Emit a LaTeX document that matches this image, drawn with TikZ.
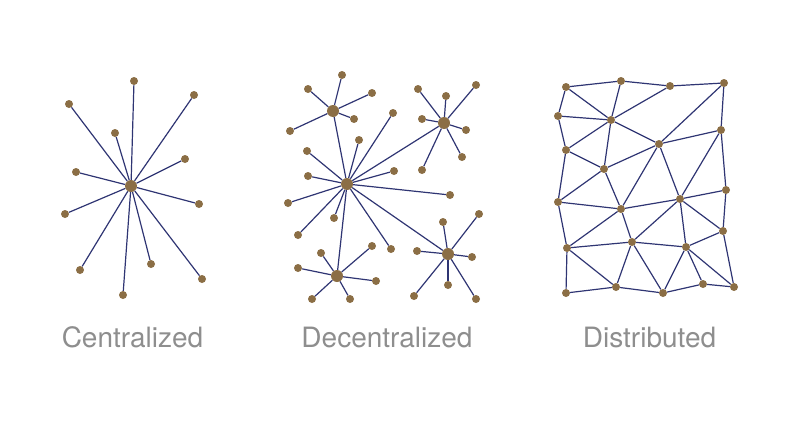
\documentclass[tikz,border=0pt]{standalone}
\usepackage{fontspec}
\setmainfont{TeX Gyre Heros}
\definecolor{nodebrown}{HTML}{8B6E45}
\definecolor{linknavy}{HTML}{2F3573}
\definecolor{captiongray}{HTML}{8E8E8E}

\begin{document}
\begin{tikzpicture}[x=1pt,y=-1pt,
  hub/.style={circle,fill=nodebrown,inner sep=0pt,minimum size=12pt},
  leaf/.style={circle,fill=nodebrown,inner sep=0pt,minimum size=8pt},
  link/.style={draw=linknavy,line width=1.2pt},
  caption/.style={anchor=base,text=captiongray,font=\fontsize{28}{30}\selectfont}]
\useasboundingbox (0,0) rectangle (800,431);

% centralized
\node[hub] (cc) at (131,186) {};
\node[leaf] (c1) at (134,81) {};
\node[leaf] (c2) at (194,95) {};
\node[leaf] (c3) at (69,104) {};
\node[leaf] (c4) at (115,133) {};
\node[leaf] (c5) at (185,159) {};
\node[leaf] (c6) at (76,172) {};
\node[leaf] (c7) at (199,204) {};
\node[leaf] (c8) at (65,214) {};
\node[leaf] (c9) at (151,264) {};
\node[leaf] (c10) at (80,270) {};
\node[leaf] (c11) at (202,279) {};
\node[leaf] (c12) at (123,295) {};
\draw[link] (cc) -- (c1);
\draw[link] (cc) -- (c2);
\draw[link] (cc) -- (c3);
\draw[link] (cc) -- (c4);
\draw[link] (cc) -- (c5);
\draw[link] (cc) -- (c6);
\draw[link] (cc) -- (c7);
\draw[link] (cc) -- (c8);
\draw[link] (cc) -- (c9);
\draw[link] (cc) -- (c10);
\draw[link] (cc) -- (c11);
\draw[link] (cc) -- (c12);
\node[caption] (ccap) at (132.5,347) {Centralized};

% decentralized
\node[hub] (dm) at (347,184) {};
\node[hub] (da) at (333,111) {};
\node[hub] (db) at (444,123) {};
\node[hub] (dc) at (337,276) {};
\node[hub] (dd) at (448,254) {};
\node[leaf] (m1) at (359,140) {};
\node[leaf] (m2) at (393,113) {};
\node[leaf] (m3) at (307,151) {};
\node[leaf] (m4) at (394,171) {};
\node[leaf] (m5) at (308,176) {};
\node[leaf] (m6) at (450,195) {};
\node[leaf] (m7) at (288,203) {};
\node[leaf] (m8) at (334,218) {};
\node[leaf] (m9) at (298,235) {};
\node[leaf] (m10) at (391,249) {};
\node[leaf] (a1) at (342,75) {};
\node[leaf] (a2) at (308,89) {};
\node[leaf] (a3) at (372,93) {};
\node[leaf] (a4) at (354,119) {};
\node[leaf] (a5) at (290,131) {};
\node[leaf] (b1) at (418,89) {};
\node[leaf] (b2) at (446,96) {};
\node[leaf] (b3) at (476,85) {};
\node[leaf] (b4) at (422,119) {};
\node[leaf] (b5) at (466,130) {};
\node[leaf] (b6) at (462,157) {};
\node[leaf] (b7) at (422,170) {};
\node[leaf] (k1) at (321,253) {};
\node[leaf] (k2) at (372,246) {};
\node[leaf] (k3) at (298,268) {};
\node[leaf] (k4) at (376,281) {};
\node[leaf] (k5) at (312,299) {};
\node[leaf] (k6) at (350,299) {};
\node[leaf] (e1) at (443,222) {};
\node[leaf] (e2) at (479,214) {};
\node[leaf] (e3) at (417,251) {};
\node[leaf] (e4) at (472,257) {};
\node[leaf] (e5) at (448,285) {};
\node[leaf] (e6) at (414,296) {};
\node[leaf] (e7) at (476,299) {};
\draw[link] (dm) -- (da);
\draw[link] (dm) -- (db);
\draw[link] (dm) -- (dc);
\draw[link] (dm) -- (dd);
\draw[link] (dm) -- (m1);
\draw[link] (dm) -- (m2);
\draw[link] (dm) -- (m3);
\draw[link] (dm) -- (m4);
\draw[link] (dm) -- (m5);
\draw[link] (dm) -- (m6);
\draw[link] (dm) -- (m7);
\draw[link] (dm) -- (m8);
\draw[link] (dm) -- (m9);
\draw[link] (dm) -- (m10);
\draw[link] (da) -- (a1);
\draw[link] (da) -- (a2);
\draw[link] (da) -- (a3);
\draw[link] (da) -- (a4);
\draw[link] (da) -- (a5);
\draw[link] (db) -- (b1);
\draw[link] (db) -- (b2);
\draw[link] (db) -- (b3);
\draw[link] (db) -- (b4);
\draw[link] (db) -- (b5);
\draw[link] (db) -- (b6);
\draw[link] (db) -- (b7);
\draw[link] (dc) -- (k1);
\draw[link] (dc) -- (k2);
\draw[link] (dc) -- (k3);
\draw[link] (dc) -- (k4);
\draw[link] (dc) -- (k5);
\draw[link] (dc) -- (k6);
\draw[link] (dd) -- (e1);
\draw[link] (dd) -- (e2);
\draw[link] (dd) -- (e3);
\draw[link] (dd) -- (e4);
\draw[link] (dd) -- (e5);
\draw[link] (dd) -- (e6);
\draw[link] (dd) -- (e7);
\node[caption] (dcap) at (387,347) {Decentralized};

% distributed
\node[leaf] (s1) at (566,87) {};
\node[leaf] (s2) at (621,81) {};
\node[leaf] (s3) at (670,86) {};
\node[leaf] (s4) at (724,83) {};
\node[leaf] (s5) at (558,116) {};
\node[leaf] (s6) at (611,120) {};
\node[leaf] (s7) at (721,130) {};
\node[leaf] (s8) at (659,144) {};
\node[leaf] (s9) at (566,150) {};
\node[leaf] (s10) at (604,169) {};
\node[leaf] (s11) at (726,190) {};
\node[leaf] (s12) at (558,202) {};
\node[leaf] (s13) at (680,199) {};
\node[leaf] (s14) at (621,209) {};
\node[leaf] (s15) at (723,231) {};
\node[leaf] (s16) at (567,248) {};
\node[leaf] (s17) at (632,242) {};
\node[leaf] (s18) at (686,247) {};
\node[leaf] (s19) at (566,293) {};
\node[leaf] (s20) at (616,287) {};
\node[leaf] (s21) at (663,293) {};
\node[leaf] (s22) at (703,284) {};
\node[leaf] (s23) at (734,287) {};
\draw[link] (s1) -- (s2);
\draw[link] (s2) -- (s3);
\draw[link] (s3) -- (s4);
\draw[link] (s1) -- (s5);
\draw[link] (s1) -- (s6);
\draw[link] (s2) -- (s6);
\draw[link] (s3) -- (s6);
\draw[link] (s4) -- (s8);
\draw[link] (s4) -- (s7);
\draw[link] (s5) -- (s6);
\draw[link] (s5) -- (s9);
\draw[link] (s6) -- (s9);
\draw[link] (s6) -- (s8);
\draw[link] (s6) -- (s10);
\draw[link] (s8) -- (s7);
\draw[link] (s9) -- (s10);
\draw[link] (s10) -- (s8);
\draw[link] (s9) -- (s12);
\draw[link] (s10) -- (s12);
\draw[link] (s10) -- (s14);
\draw[link] (s8) -- (s14);
\draw[link] (s8) -- (s13);
\draw[link] (s7) -- (s13);
\draw[link] (s7) -- (s11);
\draw[link] (s12) -- (s14);
\draw[link] (s12) -- (s16);
\draw[link] (s14) -- (s13);
\draw[link] (s14) -- (s16);
\draw[link] (s14) -- (s17);
\draw[link] (s13) -- (s11);
\draw[link] (s13) -- (s17);
\draw[link] (s13) -- (s18);
\draw[link] (s13) -- (s15);
\draw[link] (s11) -- (s15);
\draw[link] (s15) -- (s18);
\draw[link] (s16) -- (s17);
\draw[link] (s16) -- (s19);
\draw[link] (s16) -- (s20);
\draw[link] (s17) -- (s18);
\draw[link] (s17) -- (s20);
\draw[link] (s17) -- (s21);
\draw[link] (s18) -- (s21);
\draw[link] (s18) -- (s22);
\draw[link] (s18) -- (s23);
\draw[link] (s15) -- (s23);
\draw[link] (s19) -- (s20);
\draw[link] (s20) -- (s21);
\draw[link] (s21) -- (s22);
\draw[link] (s22) -- (s23);
\node[caption] (scap) at (649.5,347) {Distributed};
\end{tikzpicture}
\end{document}
